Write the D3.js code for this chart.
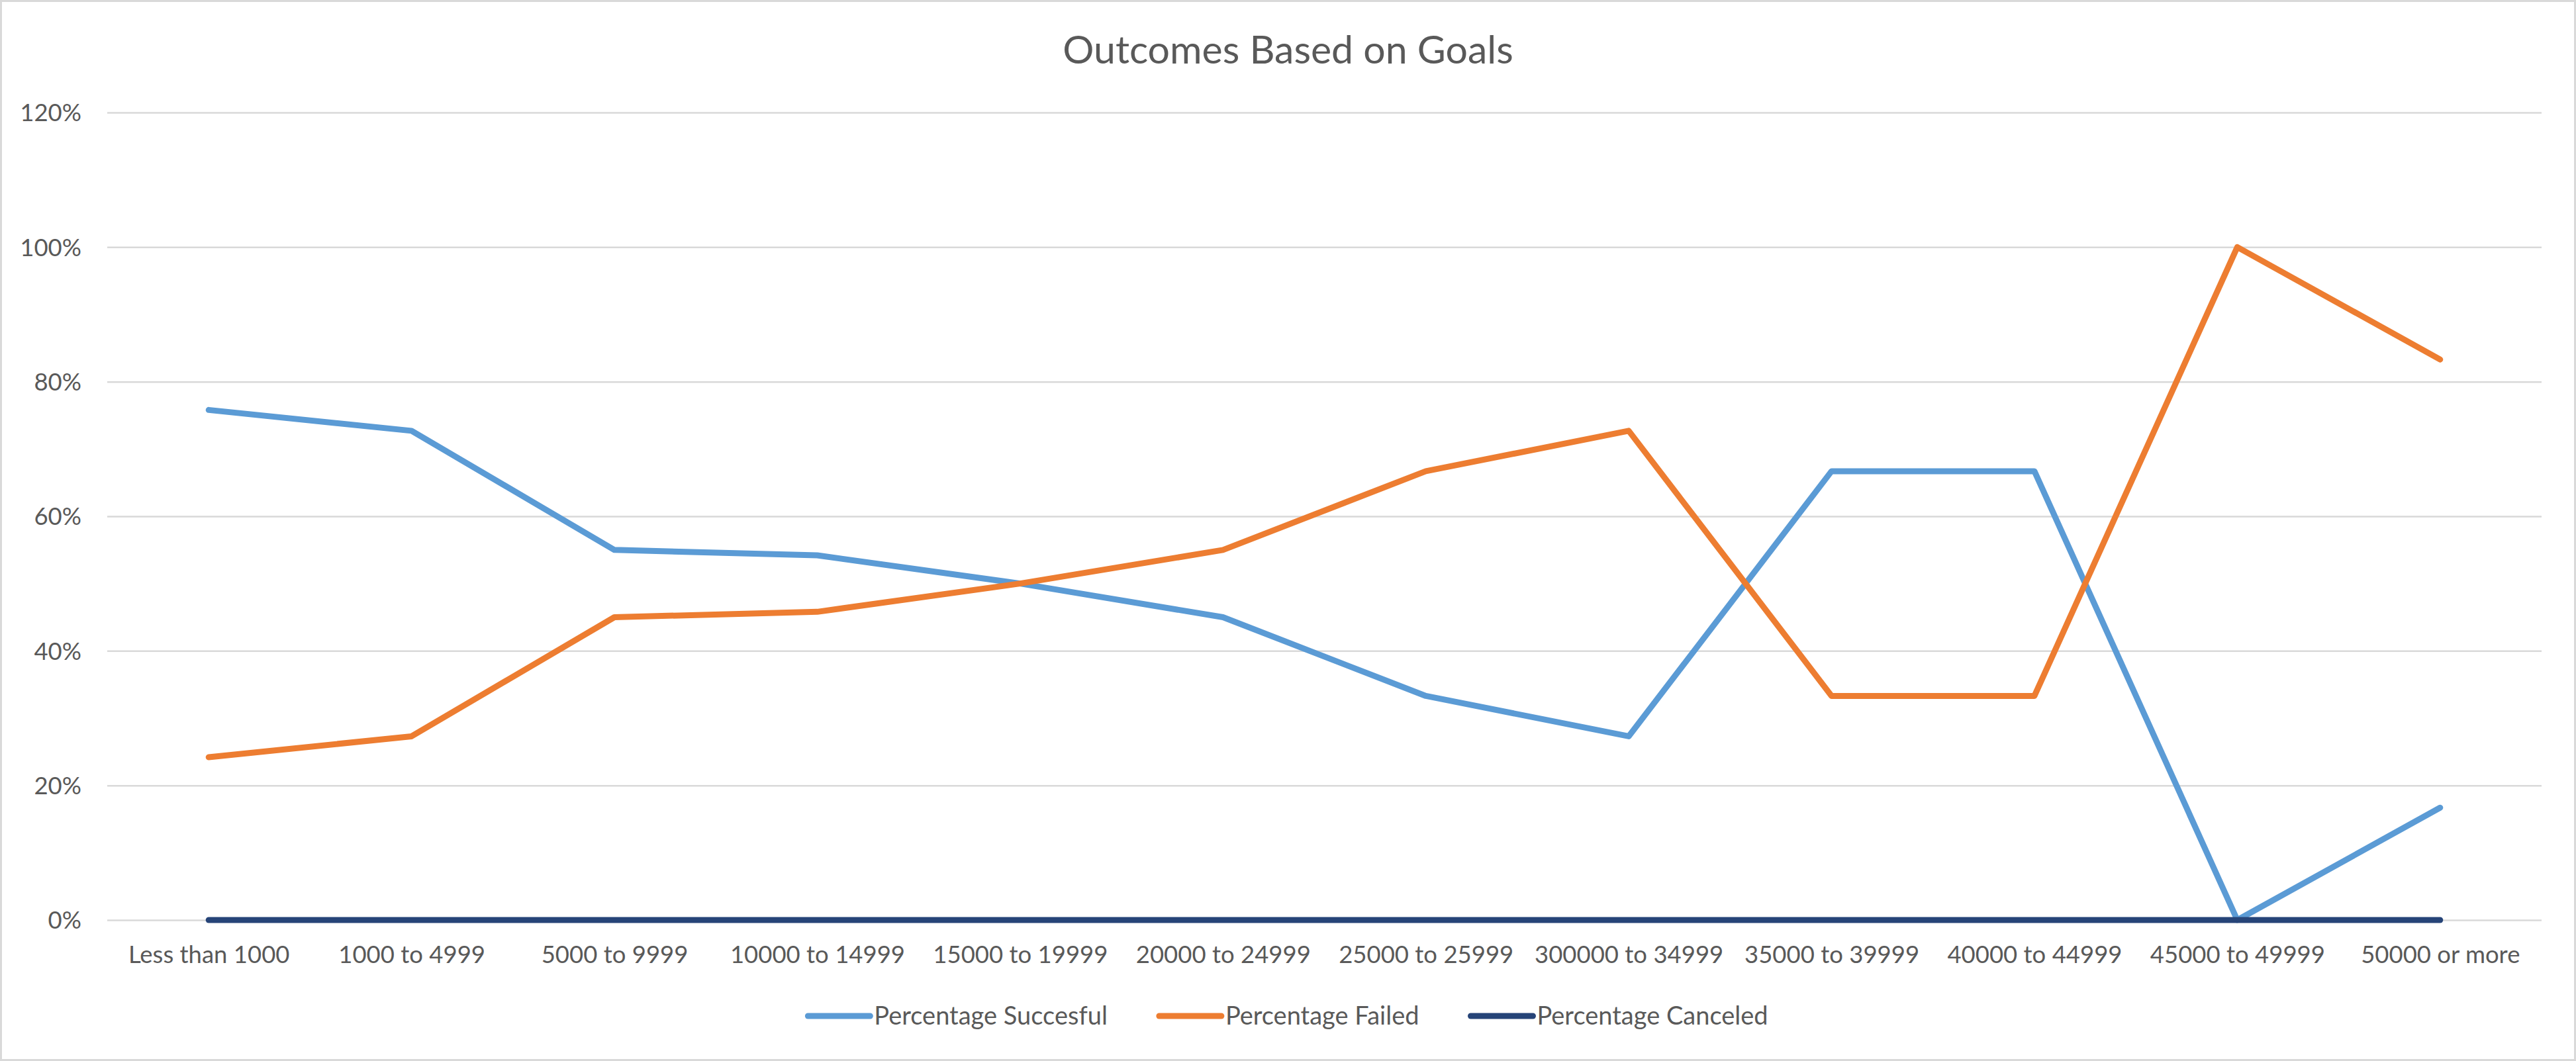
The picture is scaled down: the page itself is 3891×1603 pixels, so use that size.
<!DOCTYPE html>
<html>
<head>
<meta charset="utf-8">
<script src="https://cdn.jsdelivr.net/npm/d3@7"></script>
<style>
  html, body { margin: 0; padding: 0; background: #fff; }
  svg text { font-family: Lato, "Open Sans", sans-serif; fill: #595959; }
</style>
</head>
<body>
<div id="chart"></div>
<script>
// categories (goal ranges) as labelled in the sheet
const goalRanges = ["Less than 1000", "1000 to 4999", "5000 to 9999", "10000 to 14999",
  "15000 to 19999", "20000 to 24999", "25000 to 25999", "300000 to 34999",
  "35000 to 39999", "40000 to 44999", "45000 to 49999", "50000 or more"]

// percentages
const pctSuccessful = [0.758, 0.727, 0.55, 0.542, 0.50, 0.45, 0.333, 0.273, 0.667, 0.667, 0.0, 0.167]
const pctFailed     = [0.242, 0.273, 0.45, 0.458, 0.50, 0.55, 0.667, 0.727, 0.333, 0.333, 1.0, 0.833]
const pctCanceled   = [0, 0, 0, 0, 0, 0, 0, 0, 0, 0, 0, 0]

const seriesNames = ["Percentage Succesful", "Percentage Failed", "Percentage Canceled"]
const yTicks = [0, 0.2, 0.4, 0.6, 0.8, 1.0, 1.2]

const W = 3891, H = 1603
const margin = {top: 170, right: 52, bottom: 213, left: 162}
const colors = ["#5b9bd5", "#ed7d31", "#264478"]

let svg = d3.select("#chart").append("svg")
  .attr("width", W)
  .attr("height", H)

// outer chart border
svg.append("rect")
  .attr("x", 1.5).attr("y", 1.5)
  .attr("width", W - 3).attr("height", H - 3)
  .attr("fill", "#fff")
  .attr("stroke", "#d9d9d9")
  .attr("stroke-width", 3)

let x = d3.scalePoint()
  .domain(goalRanges)
  .range([margin.left, W - margin.right])
  .padding(0.5)

let y = d3.scaleLinear()
  .domain([0, 1.2])
  .range([H - margin.bottom, margin.top])

// title
svg.append("text")
  .attr("x", W / 2)
  .attr("y", 96)
  .attr("text-anchor", "middle")
  .style("font-size", "59px")
  .text("Outcomes Based on Goals")

// y axis + gridlines
let yAxis = svg.append("g")
  .attr("transform", "translate(" + margin.left + ",0)")
  .call(d3.axisLeft(y).tickValues(yTicks)
    .tickFormat(d3.format(".0%"))
    .tickSize(-(W - margin.left - margin.right))
    .tickPadding(39))
yAxis.select(".domain").remove()
yAxis.selectAll(".tick line").attr("stroke", "#d9d9d9").attr("stroke-width", 2.5)
yAxis.selectAll(".tick text").style("font-size", "36.5px").attr("dy", "0.35em")

// x axis labels
let xAxis = svg.append("g")
  .attr("transform", "translate(0," + (H - margin.bottom) + ")")
  .call(d3.axisBottom(x).tickSize(0).tickPadding(39))
xAxis.select(".domain").remove()
xAxis.selectAll(".tick text").style("font-size", "36.5px").attr("dy", "0.71em")

// lines
let allSeries = [pctSuccessful, pctFailed, pctCanceled]
let line = d3.line()
  .x((d, i) => x(goalRanges[i]))
  .y(d => y(d))

// canceled drawn last so it sits on top at 0%
allSeries.forEach(function(s, k) {
  svg.append("path")
    .datum(s)
    .attr("fill", "none")
    .attr("stroke", colors[k])
    .attr("stroke-width", 9)
    .attr("stroke-linejoin", "round")
    .attr("stroke-linecap", "round")
    .attr("d", line)
})

// legend
let legend = svg.append("g").attr("transform", "translate(0,1535)")
let items = legend.selectAll("g").data(seriesNames).enter().append("g")
items.append("line")
  .attr("x1", 0).attr("x2", 94)
  .attr("stroke", (d, i) => colors[i])
  .attr("stroke-width", 9)
  .attr("stroke-linecap", "round")
items.append("text")
  .attr("x", 100)
  .attr("dy", "0.35em")
  .style("font-size", "38px")
  .text(d => d)

// lay the items out in a row and center it
let offs = [], cur = 0
items.each(function() {
  offs.push(cur)
  cur += this.getBBox().width + 78
})
let total = cur - 78
let startX = (W - total) / 2
items.attr("transform", (d, i) => "translate(" + (startX + offs[i]) + ",0)")
</script>
</body>
</html>
